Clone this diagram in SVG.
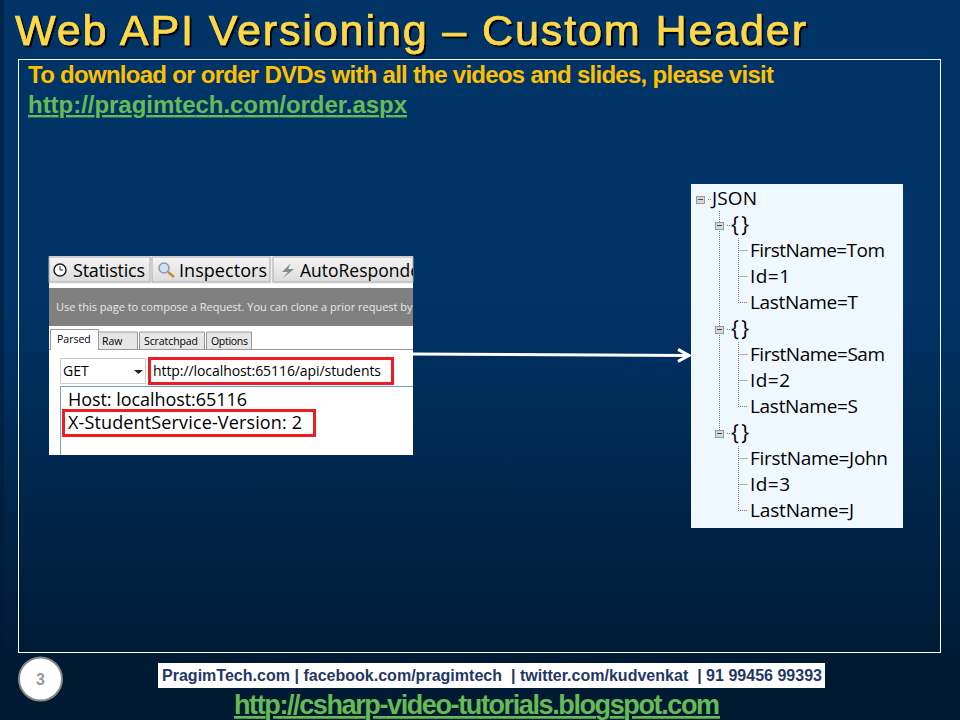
<svg xmlns="http://www.w3.org/2000/svg" width="960" height="720" viewBox="0 0 960 720">
<style>
text{font-family:"Liberation Sans",Arial,sans-serif}
.ui{font-family:"Open Sans","Liberation Sans",sans-serif;fill:#000}
.js{font-size:19px}
.br{font-size:21px}
.sm{font-size:10.500px}
.red{fill:none;stroke:#ed1c24;stroke-width:3}
.dot{fill:none;stroke:#777;stroke-width:1;stroke-dasharray:1 1}
.exp{fill:#d8d8d8;stroke:#999;stroke-width:1}
.tab{fill:#e6e6e6;stroke:#999;stroke-width:1}
</style>
<defs>
<linearGradient id="bg" x1="0" y1="0" x2="0" y2="1">
<stop offset="0" stop-color="#003366"/><stop offset="0.42" stop-color="#003366"/><stop offset="0.92" stop-color="#001a33"/><stop offset="1" stop-color="#001a33"/>
</linearGradient>
<linearGradient id="tb" x1="0" y1="0" x2="0" y2="1"><stop offset="0" stop-color="#f4f4f4"/><stop offset="1" stop-color="#dcdcdc"/></linearGradient>
<marker id="arr" markerUnits="userSpaceOnUse" markerWidth="18" markerHeight="16" refX="15" refY="8" orient="auto"><path d="M3 2L14 8L3 14" fill="none" stroke="#fff" stroke-width="3"/></marker>
<filter id="sh" x="-5%" y="-5%" width="110%" height="120%"><feDropShadow dx="2" dy="2" stdDeviation="0.6" flood-color="#000" flood-opacity="0.9"/></filter>
</defs>
<rect width="960" height="720" fill="url(#bg)"/>
<rect x="0" y="0" width="4" height="720" fill="#001a33" opacity="0.5"/>
<text id="title" x="15" y="45" font-size="43" fill="#ffd84a" stroke="#ffd84a" stroke-width="0.700" filter="url(#sh)" textLength="791" lengthAdjust="spacing">Web API Versioning – Custom Header</text>
<rect id="content-frame" x="18.500" y="59.500" width="922" height="593" fill="none" stroke="#fff" stroke-width="1"/>
<text x="28" y="83" font-size="24" font-weight="700" fill="#ffc000" textLength="746" lengthAdjust="spacing">To download or order DVDs with all the videos and slides, please visit</text>
<text x="28" y="113" font-size="24" font-weight="700" fill="#66bb55" text-decoration="underline" textLength="379" lengthAdjust="spacing">http://pragimtech.com/order.aspx</text>

<g id="fiddler-composer">
<rect x="49" y="256" width="364" height="199" fill="#fff"/>
<rect x="49" y="256" width="364" height="28" fill="#f0f0f0"/>
<rect x="49" y="257" width="101" height="25" fill="url(#tb)" stroke="#aaa"/>
<rect x="152" y="257" width="118" height="25" fill="url(#tb)" stroke="#aaa"/>
<rect x="273" y="257" width="140" height="25" fill="url(#tb)" stroke="#aaa"/>
<circle cx="60" cy="270" r="6" fill="#fff" stroke="#222" stroke-width="1.500"/>
<path d="M60 266V270H63" fill="none" stroke="#222"/>
<circle cx="164" cy="268" r="5" fill="#cfe3f5" stroke="#8a9aaa" stroke-width="1.500"/>
<path d="M168 272L174 277" stroke="#c98a3a" stroke-width="2.500"/>
<path d="M291 263L282 272H288L283 278L294 269H288Z" fill="#888"/>
<text class="ui" x="73" y="277" font-size="18" textLength="72" lengthAdjust="spacing">Statistics</text>
<text class="ui" x="179" y="277" font-size="18" textLength="88" lengthAdjust="spacing">Inspectors</text>
<svg x="273" y="256" width="140" height="30" viewBox="273 256 140 30"><text class="ui" x="300" y="277" font-size="17.500">AutoResponder</text></svg>
<rect x="49" y="288" width="364" height="38" fill="#808080"/>
<svg x="49" y="288" width="364" height="38" viewBox="49 288 364 38"><text class="ui" x="56" y="311" font-size="11" style="fill:#e8e8e8">Use this page to compose a Request. You can clone a prior request by dragging</text></svg>
<path d="M49 349.500H413" stroke="#999"/>
<path class="tab" d="M98.500 349V332H137.500V349"/>
<path class="tab" d="M139.500 349V332H204.500V349"/>
<path class="tab" d="M206.500 349V332H251.500V349"/>
<path d="M50.500 350V329.500H98.500V350" fill="#fff" stroke="#999"/>
<text class="ui sm" x="57" y="343">Parsed</text>
<text class="ui sm" x="102" y="345">Raw</text>
<text class="ui sm" x="144" y="345" textLength="54">Scratchpad</text>
<text class="ui sm" x="211" y="345" textLength="37">Options</text>
<rect x="60.500" y="358.500" width="85" height="25" fill="#fff" stroke="#ccc"/>
<text class="ui" x="63" y="376" font-size="14">GET</text>
<path d="M134 370H143L138.500 374Z" fill="#222"/>
<path d="M60.500 455V386.500H413" fill="none" stroke="#7f9db9"/>
<text class="ui" x="153" y="376" font-size="14" textLength="228">http://localhost:65116/api/students</text>
<text class="ui" x="68" y="406" font-size="18" textLength="179" lengthAdjust="spacing">Host: localhost:65116</text>
<text class="ui" x="68" y="429" font-size="18" textLength="234" lengthAdjust="spacing">X-StudentService-Version: 2</text>
<rect class="red" x="149.500" y="358.500" width="243" height="25"/>
<rect class="red" x="63.500" y="410.500" width="251" height="25"/>
</g>

<g id="connectors">
<path d="M413 354L690 355.500" fill="none" stroke="#fff" stroke-width="3" marker-end="url(#arr)"/>
</g>

<g id="json-tree">
<rect x="691" y="184" width="212" height="344" fill="#f0f8ff"/>
<path class="dot" d="M719.500 211V432M708 199.500H711M727 225.500H730M727 329.500H730M727 433.500H730M738.500 238V302.500H748M738.500 250.500H748M738.500 276.500H748M738.500 342V406.500H748M738.500 354.500H748M738.500 380.500H748M738.500 446V510.500H748M738.500 458.500H748M738.500 484.500H748"/>
<g id="expanders">
<rect class="exp" x="696.500" y="196.500" width="8" height="7"/><path d="M698 199.500H703" stroke="#446"/>
<rect class="exp" x="715.500" y="222.500" width="8" height="7"/><path d="M717 225.500H722" stroke="#446"/>
<rect class="exp" x="715.500" y="326.500" width="8" height="7"/><path d="M717 329.500H722" stroke="#446"/>
<rect class="exp" x="715.500" y="430.500" width="8" height="7"/><path d="M717 433.500H722" stroke="#446"/>
</g>
<text class="ui js" x="712" y="205" textLength="45" lengthAdjust="spacing">JSON</text>
<text class="ui br" x="731" y="232" textLength="18" lengthAdjust="spacing">{}</text>
<text class="ui js" x="750" y="257" textLength="135" lengthAdjust="spacing">FirstName=Tom</text>
<text class="ui js" x="750" y="283" textLength="40" lengthAdjust="spacing">Id=1</text>
<text class="ui js" x="750" y="309" textLength="108" lengthAdjust="spacing">LastName=T</text>
<text class="ui br" x="731" y="336" textLength="18" lengthAdjust="spacing">{}</text>
<text class="ui js" x="750" y="361" textLength="135" lengthAdjust="spacing">FirstName=Sam</text>
<text class="ui js" x="750" y="387" textLength="40" lengthAdjust="spacing">Id=2</text>
<text class="ui js" x="750" y="413" textLength="108" lengthAdjust="spacing">LastName=S</text>
<text class="ui br" x="731" y="440" textLength="18" lengthAdjust="spacing">{}</text>
<text class="ui js" x="750" y="465" textLength="138" lengthAdjust="spacing">FirstName=John</text>
<text class="ui js" x="750" y="491" textLength="40" lengthAdjust="spacing">Id=3</text>
<text class="ui js" x="750" y="517" textLength="104" lengthAdjust="spacing">LastName=J</text>
</g>

<g id="page-number">
<circle cx="40.500" cy="679" r="21.500" fill="#fff" stroke="#888" stroke-width="2"/>
<text x="40.500" y="685" font-size="16" font-weight="700" fill="#999" text-anchor="middle">3</text>
</g>
<g id="footer-bar">
<rect x="158" y="663" width="667" height="25" fill="#fff"/>
<text x="162" y="681" font-size="16" font-weight="700" fill="#1f3864" textLength="660" lengthAdjust="spacing" xml:space="preserve">PragimTech.com | facebook.com/pragimtech  | twitter.com/kudvenkat  | 91 99456 99393</text>
</g>
<text id="footer-link" x="234" y="714" font-size="27" font-weight="700" fill="#66bb55" text-decoration="underline" textLength="486" lengthAdjust="spacing">http://csharp-video-tutorials.blogspot.com</text>
</svg>
